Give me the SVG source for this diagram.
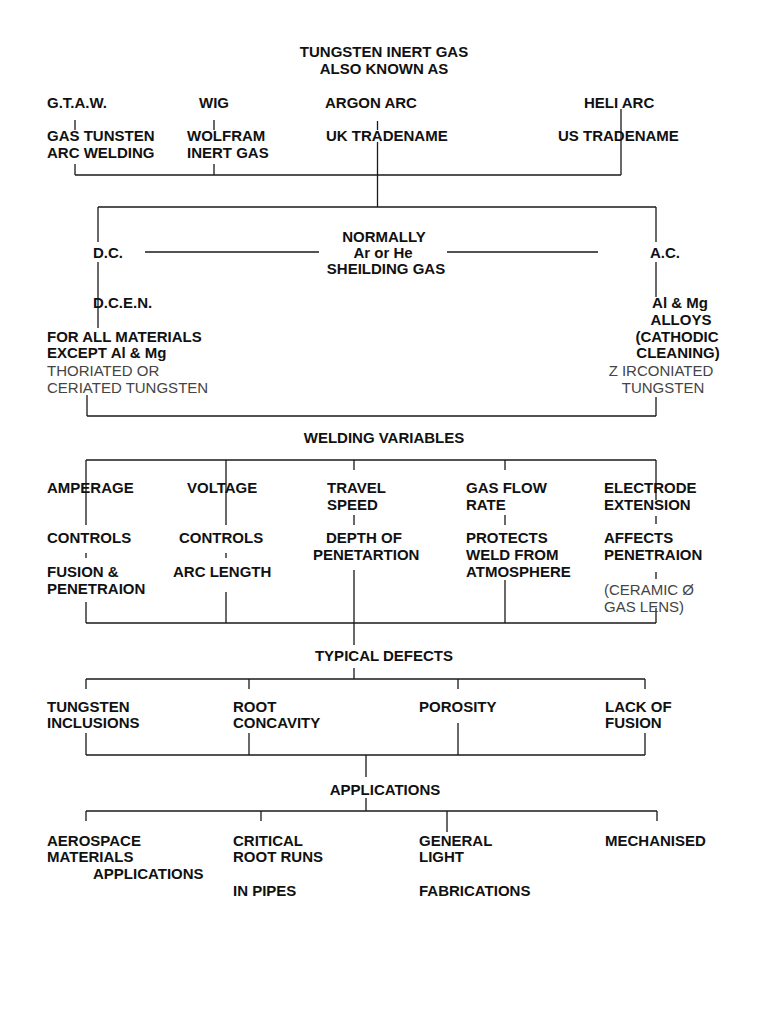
<svg xmlns="http://www.w3.org/2000/svg" width="768" height="1024" viewBox="0 0 768 1024">
<style>
text{font-family:"Liberation Sans",Arial,sans-serif;font-size:15px;font-weight:bold;fill:#111}
text.g{font-weight:normal;fill:#444}
text.m{text-anchor:middle}
#connectors path{stroke:#1a1a1a;stroke-width:1.3;fill:none}
</style>
<rect width="768" height="1024" fill="#fff"/>
<g id="connectors">
<path d="M75 120V130M214 120V130M377.5 121V130M75 164V175M214 164V175M621 109V175M75 175H621M377.5 142V207M98 207H656"/>
<path d="M98 207V242M98 262V328M656 207V242M656 262V297M656 397V416M87 395V416M87 416H656M145 252H319M447 252H598"/>
<path d="M86 460H656M86 460V525M86 553V558M86 602V623M226 460V525M226 553V558M226 592V623M354 460V470M354 515V525M354 570V645M505 460V470M505 515V525M505 580V623M656 460V500M656 516V524M656 572V579M656 608V623M86 623H656"/>
<path d="M354 668V679M86 679H645M86 679V689M86 733V755M249 679V689M249 733V755M458 679V689M458 723V755M645 679V689M645 733V755M86 755H645M366 755V777M366 798V811"/>
<path d="M86 811H657M86 811V821M261 811V821M447 811V832M657 811V821"/>
</g>
<g id="title"><text class="m" x="384" y="57">TUNGSTEN INERT GAS</text><text class="m" x="384" y="74">ALSO KNOWN AS</text></g>
<g id="gtaw"><text x="47" y="108">G.T.A.W.</text></g>
<g id="wig"><text x="199" y="108">WIG</text></g>
<g id="argon-arc"><text x="325" y="108">ARGON ARC</text></g>
<g id="heli-arc"><text x="584" y="108">HELI ARC</text></g>
<g id="gas-tunsten"><text x="47" y="141">GAS TUNSTEN</text><text x="47" y="158">ARC WELDING</text></g>
<g id="wolfram"><text x="187" y="141">WOLFRAM</text><text x="187" y="158">INERT GAS</text></g>
<g id="uk-tradename"><text x="326" y="141">UK TRADENAME</text></g>
<g id="us-tradename"><text x="558" y="141">US TRADENAME</text></g>
<g id="dc"><text x="93" y="258">D.C.</text></g>
<g id="shielding"><text class="m" x="384" y="242">NORMALLY</text><text class="m" x="383" y="258">Ar or He</text><text class="m" x="386" y="274">SHEILDING GAS</text></g>
<g id="ac"><text x="650" y="258">A.C.</text></g>
<g id="dcen"><text x="93" y="308">D.C.E.N.</text></g>
<g id="all-materials"><text x="47" y="342">FOR ALL MATERIALS</text><text x="47" y="358">EXCEPT Al &amp; Mg</text><text class="g" x="47" y="376">THORIATED OR</text><text class="g" x="47" y="393">CERIATED TUNGSTEN</text></g>
<g id="al-mg"><text class="m" x="680" y="308">Al &amp; Mg</text><text class="m" x="681" y="325">ALLOYS</text><text class="m" x="677" y="342">(CATHODIC</text><text class="m" x="678" y="358">CLEANING)</text><text class="g m" x="661" y="376">Z IRCONIATED</text><text class="g m" x="663" y="393">TUNGSTEN</text></g>
<g id="welding-variables"><text class="m" x="384" y="443">WELDING VARIABLES</text></g>
<g id="amperage"><text x="47" y="493">AMPERAGE</text><text x="47" y="543">CONTROLS</text><text x="47" y="577">FUSION &amp;</text><text x="47" y="594">PENETRAION</text></g>
<g id="voltage"><text x="187" y="493">VOLTAGE</text><text x="179" y="543">CONTROLS</text><text x="173" y="577">ARC LENGTH</text></g>
<g id="travel-speed"><text x="327" y="493">TRAVEL</text><text x="327" y="510">SPEED</text><text x="326" y="543">DEPTH OF</text><text x="313" y="560">PENETARTION</text></g>
<g id="gas-flow"><text x="466" y="493">GAS FLOW</text><text x="466" y="510">RATE</text><text x="466" y="543">PROTECTS</text><text x="466" y="560">WELD FROM</text><text x="466" y="577">ATMOSPHERE</text></g>
<g id="electrode"><text x="604" y="493">ELECTRODE</text><text x="604" y="510">EXTENSION</text><text x="604" y="543">AFFECTS</text><text x="604" y="560">PENETRAION</text><text class="g" x="604" y="595">(CERAMIC Ø</text><text class="g" x="604" y="612">GAS LENS)</text></g>
<g id="typical-defects"><text class="m" x="384" y="661">TYPICAL DEFECTS</text></g>
<g id="tungsten-inclusions"><text x="47" y="712">TUNGSTEN</text><text x="47" y="728">INCLUSIONS</text></g>
<g id="root-concavity"><text x="233" y="712">ROOT</text><text x="233" y="728">CONCAVITY</text></g>
<g id="porosity"><text x="419" y="712">POROSITY</text></g>
<g id="lack-of-fusion"><text x="605" y="712">LACK OF</text><text x="605" y="728">FUSION</text></g>
<g id="applications"><text class="m" x="385" y="795">APPLICATIONS</text></g>
<g id="aerospace"><text x="47" y="846">AEROSPACE</text><text x="47" y="862">MATERIALS</text><text x="93" y="879">APPLICATIONS</text></g>
<g id="critical"><text x="233" y="846">CRITICAL</text><text x="233" y="862">ROOT RUNS</text><text x="233" y="896">IN PIPES</text></g>
<g id="general"><text x="419" y="846">GENERAL</text><text x="419" y="862">LIGHT</text><text x="419" y="896">FABRICATIONS</text></g>
<g id="mechanised"><text x="605" y="846">MECHANISED</text></g>
</svg>
